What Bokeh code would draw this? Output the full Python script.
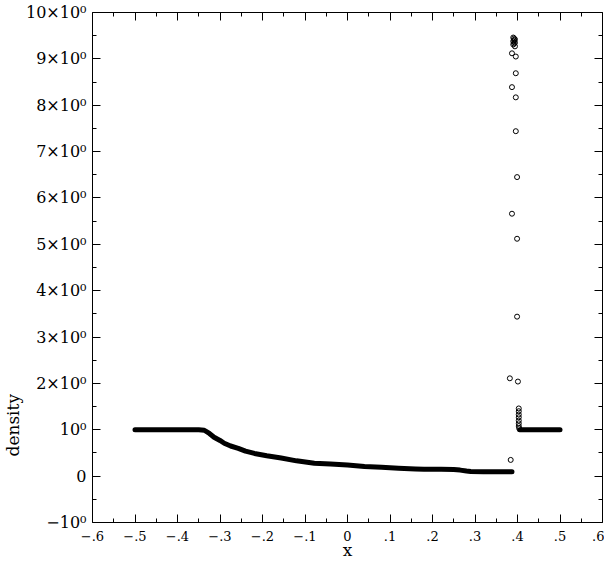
from bokeh.plotting import figure
from bokeh.models import FixedTicker, LinearAxis, Title, CustomJSTickFormatter
from bokeh.embed import file_html
from bokeh.resources import INLINE

# ---- data ----
# dense part of the profile (drawn as a thick line of packed markers)
curve_x = [-0.5, -0.45, -0.40, -0.35, -0.337, -0.325, -0.314, -0.30, -0.29,
           -0.275, -0.257, -0.24, -0.219, -0.19, -0.156, -0.12, -0.078,
           -0.04, 0.0, 0.04, 0.08, 0.12, 0.16, 0.18, 0.22, 0.25, 0.265,
           0.28, 0.29, 0.32, 0.35, 0.387]
curve_y = [1.0, 1.0, 1.0, 1.0, 0.99, 0.92, 0.84, 0.77, 0.71,
           0.65, 0.60, 0.54, 0.49, 0.44, 0.39, 0.33, 0.28,
           0.26, 0.24, 0.21, 0.19, 0.17, 0.155, 0.15, 0.15, 0.145, 0.13,
           0.11, 0.10, 0.095, 0.095, 0.095]

# ambient region right of the shock
right_x = [0.405, 0.43, 0.46, 0.5]
right_y = [1.0, 1.0, 1.0, 1.0]

# individual points in the shock spike
spike_x = [0.384, 0.382, 0.401, 0.399, 0.399, 0.387, 0.399, 0.396, 0.396,
           0.387, 0.396, 0.396, 0.387, 0.394, 0.390, 0.392, 0.392, 0.390,
           0.394, 0.392, 0.390, 0.394,
           0.403, 0.403, 0.403, 0.403, 0.403, 0.403, 0.403, 0.404]
spike_y = [0.35, 2.11, 2.04, 3.44, 5.12, 5.66, 6.45, 7.44, 8.17,
           8.39, 8.69, 9.05, 9.12, 9.27, 9.46, 9.44, 9.40, 9.38,
           9.35, 9.33, 9.31, 9.42,
           1.46, 1.40, 1.33, 1.27, 1.20, 1.14, 1.08, 1.03]

x_ticks = [-0.6, -0.5, -0.4, -0.3, -0.2, -0.1, 0.0, 0.1, 0.2, 0.3, 0.4, 0.5, 0.6]
x_tick_labels = ["\u2212.6", "\u2212.5", "\u2212.4", "\u2212.3", "\u2212.2", "\u2212.1",
                 "0", ".1", ".2", ".3", ".4", ".5", ".6"]
x_minor = [-0.55, -0.45, -0.35, -0.25, -0.15, -0.05, 0.05, 0.15, 0.25, 0.35, 0.45, 0.55]
y_ticks = [-1, 0, 1, 2, 3, 4, 5, 6, 7, 8, 9, 10]
y_tick_labels = ["\u221210\u2070", "0", "10\u2070", "2\u00d710\u2070", "3\u00d710\u2070",
                 "4\u00d710\u2070", "5\u00d710\u2070", "6\u00d710\u2070", "7\u00d710\u2070",
                 "8\u00d710\u2070", "9\u00d710\u2070", "10\u00d710\u2070"]
y_minor = [-0.5, 0.5, 1.5, 2.5, 3.5, 4.5, 5.5, 6.5, 7.5, 8.5, 9.5]

FONT = "DejaVu Serif"

p = figure(frame_width=510, frame_height=510, x_range=(-0.6, 0.6), y_range=(-1, 10),
           output_backend="svg", toolbar_location=None,
           min_border_left=84, min_border_right=2, min_border_top=12,
           min_border_bottom=36)
p.grid.visible = False
p.outline_line_color = None
p.background_fill_color = "white"
p.border_fill_color = "white"

bottom = p.below[0]
left = p.left[0]

xt = FixedTicker(ticks=x_ticks, minor_ticks=x_minor)
yt = FixedTicker(ticks=y_ticks, minor_ticks=y_minor)

blank = CustomJSTickFormatter(code="return ''")
top = LinearAxis(formatter=blank)
right = LinearAxis(formatter=blank)
p.add_layout(top, "above")
p.add_layout(right, "right")

bottom.ticker = xt
top.ticker = xt
left.ticker = yt
right.ticker = yt

for ax in [bottom, top, left, right]:
    ax.axis_line_color = "black"
    ax.axis_line_width = 1
    ax.major_tick_line_color = "black"
    ax.minor_tick_line_color = "black"
    ax.major_tick_in = 8
    ax.major_tick_out = 0
    ax.minor_tick_in = 4
    ax.minor_tick_out = 0

for ax in [top, right]:
    ax.major_label_standoff = 0

bottom.major_label_overrides = {t: l for t, l in zip(x_ticks, x_tick_labels)}
bottom.major_label_text_font = FONT
bottom.major_label_text_font_size = "13px"
bottom.major_label_text_color = "black"
bottom.major_label_standoff = 8
bottom.axis_label = "x"
bottom.axis_label_text_font = FONT
bottom.axis_label_text_font_size = "17px"
bottom.axis_label_text_font_style = "normal"
bottom.axis_label_text_color = "black"
bottom.axis_label_standoff = -4

left.major_label_overrides = {t: l for t, l in zip(y_ticks, y_tick_labels)}
left.major_label_text_font = FONT
left.major_label_text_font_size = "16px"
left.major_label_text_color = "black"
left.major_label_standoff = 6

# y-axis title, placed low along the axis as in the reference
ytitle = Title(text="density", align="left", offset=66, standoff=0,
               text_font=FONT, text_font_size="17px", text_font_style="normal",
               text_color="black")
p.add_layout(ytitle, "left")

# data
p.line(curve_x, curve_y, line_color="black", line_width=5,
       line_cap="round", line_join="round")
p.line(right_x, right_y, line_color="black", line_width=5,
       line_cap="round", line_join="round")
p.scatter(spike_x, spike_y, marker="circle", size=5, fill_color=None,
          line_color="black", line_width=1)

open("out.html", "w").write(file_html(p, INLINE))
